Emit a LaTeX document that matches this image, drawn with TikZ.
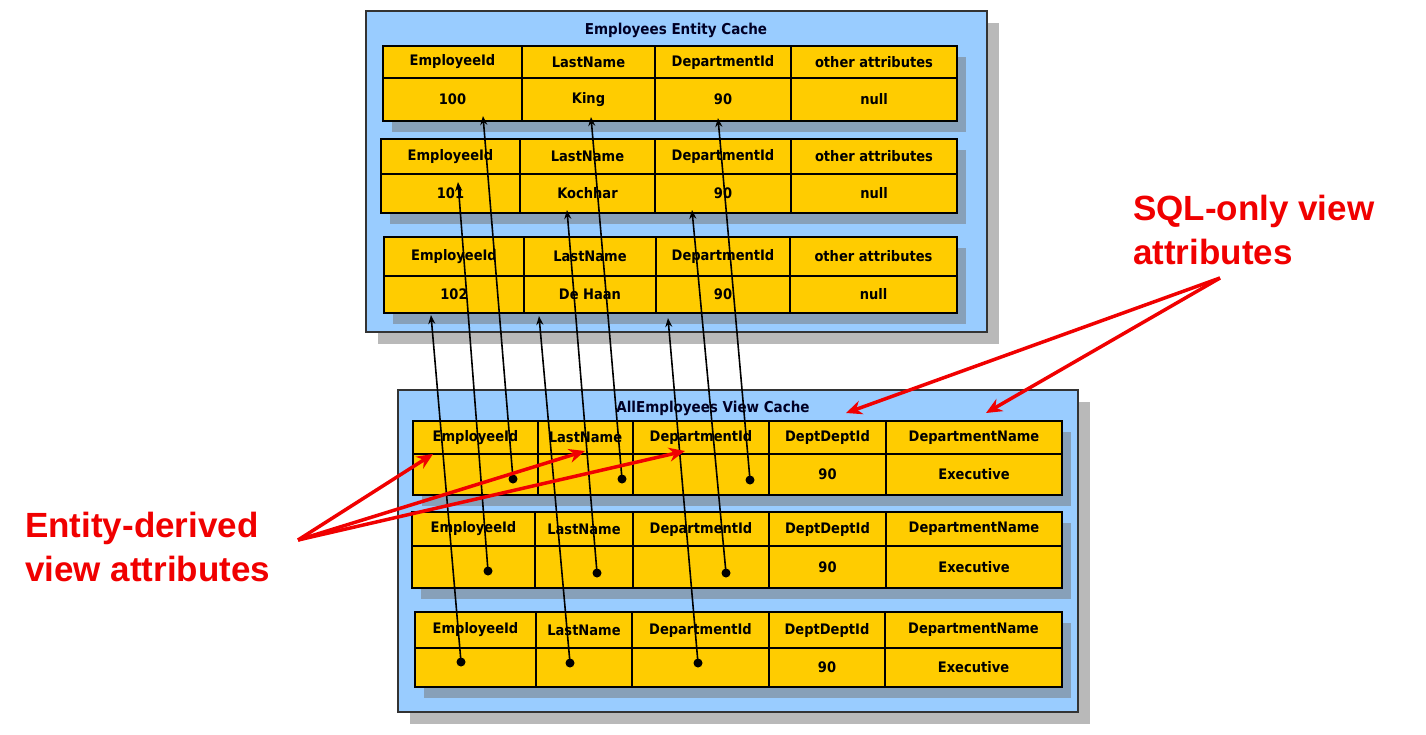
\documentclass[tikz,border=0pt]{standalone}
\usepackage{fontspec}
\usetikzlibrary{arrows.meta}
\newfontfamily\cellfont{DejaVu Sans Condensed}[BoldFont={DejaVu Sans Condensed Bold}]
\newfontfamily\redfont{Liberation Sans}
\definecolor{boxblue}{RGB}{153,204,255}
\definecolor{celly}{RGB}{255,204,0}
\definecolor{shadc}{RGB}{185,185,185}
\definecolor{rshad}{RGB}{135,160,185}
\definecolor{redc}{RGB}{240,0,0}
\tikzset{
 container/.style={draw=black!80, fill=boxblue, line width=1.2pt},
 cell/.style={draw=black, fill=celly, line width=1.2pt},
 ctext/.style={font=\cellfont\fontsize{14.5}{16}\selectfont\bfseries, text=black, inner sep=0pt},
 ttext/.style={font=\cellfont\fontsize{15}{17}\selectfont\bfseries, text=black!85!blue},
 link/.style={black, line width=1.6pt, -{Stealth[length=9pt,width=7pt]}},
 redarrow/.style={redc, line width=3.5pt, -{Stealth[length=16pt,width=14pt]}},
 redlabel/.style={font=\redfont\fontsize{35}{44}\selectfont\bfseries, text=redc, align=left, anchor=north west, inner sep=0pt}
}
\newcommand\trow[6]{%
 \fill[rshad] (#1+9,#3+11) rectangle (#2+9,#5+11);
 \foreach \a/\b/\h/\v in {#6} {%
  \draw[cell] (\a,#3) rectangle (\b,#4);
  \draw[cell] (\a,#4) rectangle (\b,#5);
  \node[ctext] at ({(\a+\b)/2},{(#3+#4)/2}) {\h};
  \node[ctext] at ({(\a+\b)/2},{(#4+#5)/2}) {\v};
 }}
\begin{document}
\begin{tikzpicture}[x=1pt,y=-1pt]
\useasboundingbox (0,0) rectangle (1426,734);
% top container
\fill[shadc] (378,23) rectangle (999,344);
\draw[container] (366,11) rectangle (987,332);
\node[ttext] (ttitle) at (676,30) {Employees Entity Cache};
\trow{383}{957}{46}{78}{121}{383/522/EmployeeId/100,522/655/LastName/King,655/791/DepartmentId/90,791/957/other attributes/null}
\trow{381}{957}{139}{174}{213}{381/520/EmployeeId/101,520/655/LastName/Kochhar,655/791/DepartmentId/90,791/957/other attributes/null}
\trow{384}{957}{237}{276}{313}{384/524/EmployeeId/102,524/656/LastName/De Haan,656/790/DepartmentId/90,790/957/other attributes/null}
% bottom container
\fill[shadc] (410,402) rectangle (1090,724);
\draw[container] (398,390) rectangle (1078,712);
\node[ttext] (btitle) at (713,408) {AllEmployees View Cache};
\trow{413}{1062}{421}{454}{495}{413/538/EmployeeId/,538/633/LastName/,633/769/DepartmentId/,769/886/DeptDeptId/90,886/1062/DepartmentName/Executive}
\trow{412}{1062}{512}{546}{588}{412/535/EmployeeId/,535/633/LastName/,633/769/DepartmentId/,769/886/DeptDeptId/90,886/1062/DepartmentName/Executive}
\trow{415}{1062}{612}{648}{687}{415/536/EmployeeId/,536/632/LastName/,632/769/DepartmentId/,769/885/DeptDeptId/90,885/1062/DepartmentName/Executive}
% link coordinates
\foreach \n/\dx/\dy/\tx/\ty in {a1/513/479/483/116, a2/622/479/591/117, a3/750/480/718/118,
  b1/488/571/458/182, b2/597/573/567/210, b3/726/573/692/210,
  c1/461/662/431/315, c2/570/663/539/316, c3/698/663/668/318} {
  \coordinate (d\n) at (\dx,\dy);
  \coordinate (t\n) at (\tx,\ty);
  \fill (d\n) circle (4.5);
  \draw[link] (d\n) -- (t\n);
}
% red labels
\node[redlabel] (ent) at (25,512) {Entity-derived\\view attributes};
\node[redlabel] (sql) at (1133,195) {SQL-only view\\attributes};
\coordinate (es) at (298,540);
\coordinate (e1) at (433,454);
\coordinate (e2) at (585,451);
\coordinate (e3) at (685,451);
\draw[redarrow] (es) -- (e1);
\draw[redarrow] (es) -- (e2);
\draw[redarrow] (es) -- (e3);
\coordinate (ss) at (1220,278);
\coordinate (s1) at (846,413);
\coordinate (s2) at (986,413);
\draw[redarrow] (ss) -- (s1);
\draw[redarrow] (ss) -- (s2);
\end{tikzpicture}
\end{document}
